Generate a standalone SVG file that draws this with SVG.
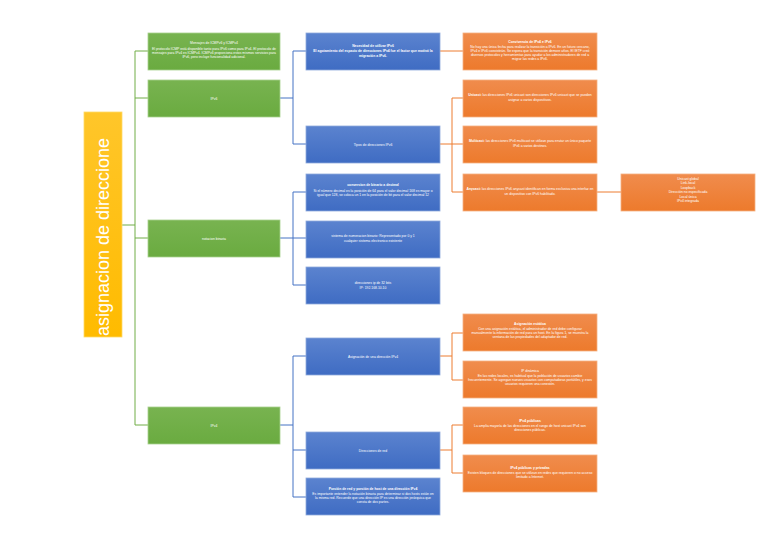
<svg xmlns="http://www.w3.org/2000/svg" width="768" height="543" viewBox="0 0 768 543">
<defs>
<linearGradient id="gG" x1="0" y1="0" x2="0" y2="1"><stop offset="0" stop-color="#78b350"/><stop offset="1" stop-color="#6aab40"/></linearGradient>
<linearGradient id="gB" x1="0" y1="0" x2="0" y2="1"><stop offset="0" stop-color="#5b83cf"/><stop offset="1" stop-color="#3f6cc3"/></linearGradient>
<linearGradient id="gO" x1="0" y1="0" x2="0" y2="1"><stop offset="0" stop-color="#f08c4d"/><stop offset="1" stop-color="#ed7a2c"/></linearGradient>
<linearGradient id="gY" x1="0" y1="0" x2="0" y2="1"><stop offset="0" stop-color="#ffc62a"/><stop offset="1" stop-color="#ffbb00"/></linearGradient>
</defs>
<style>
.g{fill:url(#gG);stroke:#a9d18e;stroke-width:0.8}
.b{fill:url(#gB);stroke:#8faadc;stroke-width:0.8}
.o{fill:url(#gO);stroke:#f4b183;stroke-width:0.8}
text{font-family:"Liberation Sans",Arial,sans-serif;fill:#fff;text-anchor:middle;font-size:3.4px}
.h{font-weight:bold}
.lg{fill:none;stroke:#70ad47;stroke-width:1}
.lb{fill:none;stroke:#4472c4;stroke-width:1}
.lo{fill:none;stroke:#ed7d31;stroke-width:1}
</style>
<rect width="768" height="543" fill="#fff"/>
<g id="connectors">
<path class="lg" d="M122,225H135M135,51V425M135,51H148M135,98H148M135,238H148M135,425H148"/>
<path class="lb" d="M280,98H293M293,51V144M293,51H306M293,144H306"/>
<path class="lb" d="M280,238H293M293,192V285M293,192H306M293,238H306M293,285H306"/>
<path class="lb" d="M280,425H293M293,356V497M293,356H306M293,450H306M293,497H306"/>
<path class="lo" d="M440,51H463"/>
<path class="lo" d="M440,144H452M452,98V192M452,98H463M452,144H463M452,192H463M597,192H621"/>
<path class="lo" d="M440,356H452M452,333V380M452,333H463M452,380H463"/>
<path class="lo" d="M440,450H452M452,425V473M452,425H463M452,473H463"/>
</g>
<g id="root"><rect x="84" y="112" width="38" height="225" fill="url(#gY)" stroke="#ffd966" stroke-width="0.8"/>
<text transform="translate(109,237) rotate(-90)" style="font-size:18px">asignacion de direccione</text></g>
<g id="g1"><rect class="g" x="148" y="33" width="132" height="37"/>
<text x="214" y="44">Mensajes de ICMPv6 y ICMPv4</text>
<text x="214" y="50">El protocolo ICMP está disponible tanto para IPv6 como para IPv4. El protocolo de</text>
<text x="214" y="54">mensajes para IPv4 es ICMPv4. ICMPv6 proporciona estos mismos servicios para</text>
<text x="214" y="58">IPv6, pero incluye funcionalidad adicional.</text></g>
<g id="g2"><rect class="g" x="148" y="80" width="132" height="37"/><text x="214" y="99.5">IPv6</text></g>
<g id="g3"><rect class="g" x="148" y="220" width="132" height="37"/><text x="214" y="239.5">notacion binaria</text></g>
<g id="g4"><rect class="g" x="148" y="407" width="132" height="37"/><text x="214" y="426.5">IPv4</text></g>
<g id="b1"><rect class="b" x="306" y="33" width="134" height="37"/>
<text class="h" x="373" y="47">Necesidad de utilizar IPv6</text>
<text class="h" x="373" y="52">El agotamiento del espacio de direcciones IPv4 fue el factor que motivó la</text>
<text class="h" x="373" y="56.5">migración a IPv6.</text></g>
<g id="b2"><rect class="b" x="306" y="126" width="134" height="37"/><text x="373" y="145.5">Tipos de direcciones IPv6</text></g>
<g id="b3"><rect class="b" x="306" y="174" width="134" height="37"/>
<text class="h" x="373" y="186">conversion de binario a decimal</text>
<text x="373" y="192">Si el número decimal es la posición de 64 para el valor decimal 168 es mayor o</text>
<text x="373" y="196">igual que 128, se coloca un 1 en la posición de bit para el valor decimal 12</text></g>
<g id="b4"><rect class="b" x="306" y="221" width="134" height="37"/>
<text x="373" y="237">sistema de numeracion binario: Representado por 0 y 1</text>
<text x="373" y="242">cualquier sistema electronico existente</text></g>
<g id="b5"><rect class="b" x="306" y="267" width="134" height="37"/>
<text x="373" y="284">direcciones ip de 32 bits</text>
<text x="373" y="289">IP: 192.168.10.10</text></g>
<g id="b6"><rect class="b" x="306" y="338" width="134" height="37"/><text x="373" y="357.5">Asignación de una dirección IPv4</text></g>
<g id="b7"><rect class="b" x="306" y="432" width="134" height="37"/><text x="373" y="451.5">Direcciones de red</text></g>
<g id="b8"><rect class="b" x="306" y="478" width="134" height="37"/>
<text class="h" x="373" y="490">Porción de red y porción de host de una dirección IPv4</text>
<text x="373" y="495">Es importante entender la notación binaria para determinar si dos hosts están en</text>
<text x="373" y="499">la misma red. Recuerde que una dirección IP es una dirección jerárquica que</text>
<text x="373" y="503">consta de dos partes.</text></g>
<g id="o1"><rect class="o" x="463" y="33" width="134" height="37"/>
<text class="h" x="530" y="43">Convivencia de IPv4 e IPv6</text>
<text x="530" y="48">No hay una única fecha para realizar la transición a IPv6. En un futuro cercano,</text>
<text x="530" y="52">IPv4 e IPv6 coexistirán. Se espera que la transición demore años. El IETF creó</text>
<text x="530" y="56">diversos protocolos y herramientas para ayudar a los administradores de red a</text>
<text x="530" y="60">migrar las redes a IPv6.</text></g>
<g id="o2"><rect class="o" x="463" y="80" width="134" height="37"/>
<text x="530" y="96"><tspan class="h">Unicast:</tspan> las direcciones IPv6 unicast son direcciones IPv6 unicast que se pueden</text>
<text x="530" y="100.5">asignar a varios dispositivos.</text></g>
<g id="o3"><rect class="o" x="463" y="126" width="134" height="37"/>
<text x="530" y="142"><tspan class="h">Multicast:</tspan> las direcciones IPv6 multicast se utilizan para enviar un único paquete</text>
<text x="530" y="146.5">IPv6 a varios destinos.</text></g>
<g id="o4"><rect class="o" x="463" y="174" width="134" height="37"/>
<text x="530" y="190"><tspan class="h">Anycast:</tspan> las direcciones IPv6 anycast identifican en forma exclusiva una interfaz en</text>
<text x="530" y="194.5">un dispositivo con IPv6 habilitado.</text></g>
<g id="f1"><rect class="o" x="621" y="174" width="134" height="37"/>
<text x="688" y="179.5">Unicast global</text>
<text x="688" y="184">Link-local</text>
<text x="688" y="188.5">Loopback</text>
<text x="688" y="193">Dirección no especificada</text>
<text x="688" y="197.5">Local única</text>
<text x="688" y="202">IPv4 integrada</text></g>
<g id="o5"><rect class="o" x="463" y="314" width="134" height="37"/>
<text class="h" x="530" y="325">Asignación estática</text>
<text x="530" y="330">Con una asignación estática, el administrador de red debe configurar</text>
<text x="530" y="334">manualmente la información de red para un host. En la figura 1, se muestra la</text>
<text x="530" y="338">ventana de las propiedades del adaptador de red.</text></g>
<g id="o6"><rect class="o" x="463" y="361" width="134" height="37"/>
<text x="530" y="372">IP dinámica</text>
<text x="530" y="377">En las redes locales, es habitual que la población de usuarios cambie</text>
<text x="530" y="381">frecuentemente. Se agregan nuevos usuarios con computadoras portátiles, y esos</text>
<text x="530" y="385">usuarios requieren una conexión.</text></g>
<g id="o7"><rect class="o" x="463" y="407" width="134" height="37"/>
<text class="h" x="530" y="422">IPv4 públicas</text>
<text x="530" y="427">La amplia mayoría de las direcciones en el rango de host unicast IPv4 son</text>
<text x="530" y="431">direcciones públicas.</text></g>
<g id="o8"><rect class="o" x="463" y="455" width="134" height="37"/>
<text class="h" x="530" y="469">IPv4 públicas y privadas</text>
<text x="530" y="474">Existen bloques de direcciones que se utilizan en redes que requieren o no acceso</text>
<text x="530" y="478">limitado a Internet.</text></g>
</svg>
